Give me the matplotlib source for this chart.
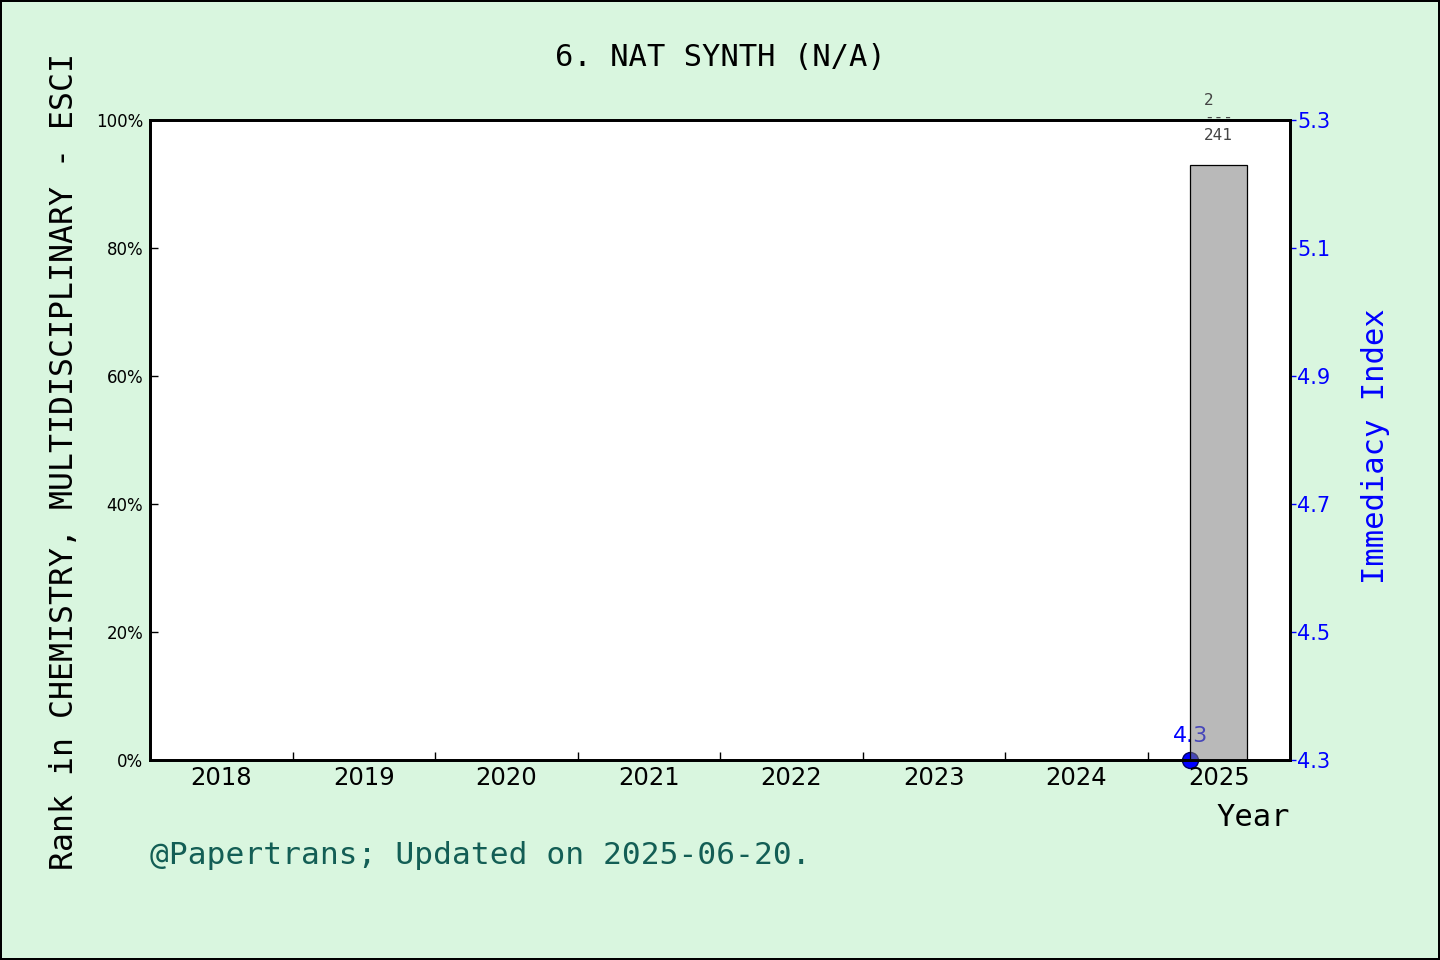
import matplotlib.pyplot as plt
from matplotlib.ticker import FixedLocator, FuncFormatter

# data
years = [2018, 2019, 2020, 2021, 2022, 2023, 2024, 2025]
rank_years = [2025]
rank_pct = [93.0]
rank_pos = [2]
rank_total = [241]
ii_years = [2025]
ii_values = [4.3]

bg = "#d9f6df"
mono = "DejaVu Sans Mono"

fig = plt.figure(figsize=(14.4, 9.6), dpi=100, facecolor=bg)
fig.patch.set_edgecolor("black")
fig.patch.set_linewidth(1.5)

ax1 = fig.add_axes([150 / 1440, 1 - 760 / 960, 1140 / 1440, 640 / 960])
ax2 = ax1.twinx()

# bar axis on top so the grey bar covers the blue point
ax1.set_zorder(ax2.get_zorder() + 1)
ax1.patch.set_visible(False)
ax2.patch.set_visible(True)
ax2.patch.set_facecolor("white")

ax1.bar(rank_years, rank_pct, width=0.4, facecolor=(0.5, 0.5, 0.5, 0.55),
        edgecolor="black", linewidth=0.9)
for x, y, r, t in zip(rank_years, rank_pct, rank_pos, rank_total):
    ax1.annotate(f"{r}\n---\n{t}", (x, y), xytext=(0, 16), textcoords="offset points",
                 ha="center", va="bottom", multialignment="left", fontsize=11.5,
                 family=mono, color="#444444", linespacing=1.2,
                 annotation_clip=False)

ii_x = [y - 0.2 for y in ii_years]
ax2.plot(ii_x, ii_values, "o", color="blue", markeredgecolor="#000060",
         markersize=11.5, clip_on=False)
for x, v in zip(ii_x, ii_values):
    ax2.annotate(f"{v:.1f}", (x, v), xytext=(0, 10), textcoords="offset points",
                 ha="center", va="bottom", fontsize=16, color="blue")

ax1.set_xlim(2017.5, 2025.5)
ax1.set_ylim(0, 100)
ax2.set_ylim(4.3, 5.3)

ax1.set_xticks(years)
ax1.xaxis.set_minor_locator(FixedLocator([y + 0.5 for y in years[:-1]]))
ax1.tick_params(axis="x", which="major", length=0, labelsize=17.5, pad=4)
ax1.tick_params(axis="x", which="minor", direction="in", length=6, width=1)

ax1.set_yticks([0, 20, 40, 60, 80, 100])
ax1.yaxis.set_major_formatter(FuncFormatter(lambda v, p: f"{v:.0f}%"))
ax1.tick_params(axis="y", direction="in", length=6, width=1, labelsize=12, pad=5)

ax2.set_yticks([4.3, 4.5, 4.7, 4.9, 5.1, 5.3])
ax2.yaxis.set_major_formatter(FuncFormatter(lambda v, p: f"{v:.1f}"))
ax2.tick_params(axis="y", direction="out", length=4, width=1, colors="blue",
                labelsize=15, pad=1)

for ax in (ax1, ax2):
    for s in ax.spines.values():
        s.set_linewidth(2)
        s.set_color("black")

fig.text(0.5, 1 - 57 / 960, "6. NAT SYNTH (N/A)", ha="center", va="center",
         fontsize=22, family=mono)
fig.text(65 / 1440, 1 - 461 / 960, "Rank in CHEMISTRY, MULTIDISCIPLINARY - ESCI",
         rotation=90, ha="center", va="center", fontsize=22.7, family=mono)
fig.text(1375 / 1440, 1 - 446 / 960, "Immediacy Index", rotation=90,
         ha="center", va="center", fontsize=22, family=mono, color="blue")
fig.text(1290 / 1440, 1 - 818 / 960, "Year", ha="right", va="center",
         fontsize=22, family=mono)
fig.text(150 / 1440, 1 - 855 / 960, "@Papertrans; Updated on 2025-06-20.",
         ha="left", va="center", fontsize=22.5, family=mono, color="#135e55")

fig.savefig("out.png", dpi=100, facecolor=bg, edgecolor="black")
